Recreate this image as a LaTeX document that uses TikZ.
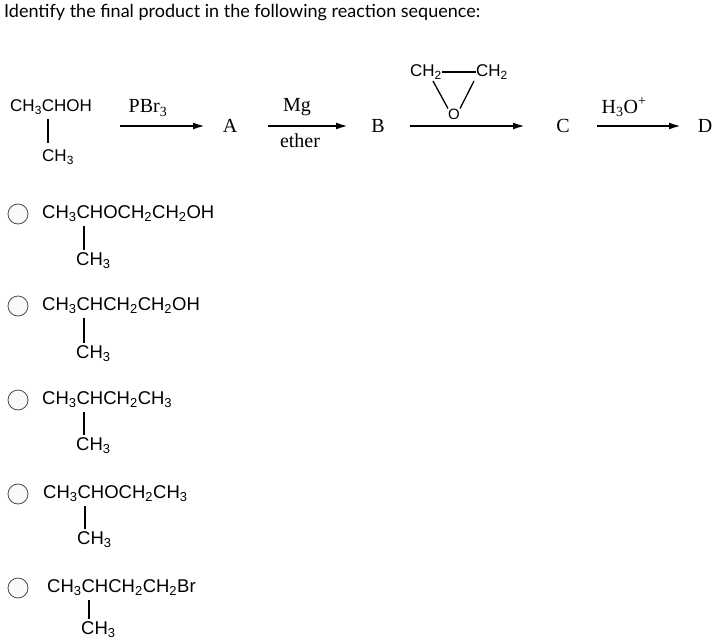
\documentclass[tikz,border=0pt]{standalone}
\usepackage{fontspec}
\setmainfont{Liberation Sans}
\newfontfamily\titlefont{Lato}
\newfontfamily\serifx{Liberation Serif}
\usetikzlibrary{arrows.meta}
\newcommand\lo[1]{\textsubscript{#1}}
\begin{document}
\begin{tikzpicture}[x=1pt,y=-1pt,
  chem/.style={font=\fontsize{18.5}{20}\selectfont, inner sep=0pt, anchor=west},
  rg/.style={font=\serifx\fontsize{20}{22}\selectfont, inner sep=0pt},
  rarrow/.style={line width=2pt, -{Latex[length=12pt,width=7pt]}},
  bond/.style={line width=1.3pt},
  radio/.style={draw=black!70, fill=black!2, line width=0.8pt, circle, minimum size=20pt, inner sep=0pt}]
\useasboundingbox (0,0) rectangle (717,642);
\node[anchor=west, inner sep=0pt, font=\titlefont\fontsize{18}{20}\selectfont] (title) at (4,13) {Identify the final product in the following reaction sequence:};
% starting material
\node[chem, font=\fontsize{17}{19}\selectfont] (sm) at (10,107) {CH\lo{3}CHOH};
\node[chem, font=\fontsize{17}{19}\selectfont] (smm) at (42,157) {CH\lo{3}};
\draw[bond] (48,119) -- (48,143);
% step 1
\node[rg] (pbr) at (148,108) {PBr\lo{3}};
\coordinate (a1s) at (120,126); \coordinate (a1e) at (205,126);
\draw[rarrow] (a1s) -- (a1e);
\node[rg] (A) at (230,126) {A};
% step 2
\node[rg] (mg) at (297,107) {Mg};
\node[rg] (eth) at (300,141) {ether};
\coordinate (a2s) at (268,126); \coordinate (a2e) at (348,126);
\draw[rarrow] (a2s) -- (a2e);
\node[rg] (B) at (378,126) {B};
% step 3 epoxide
\node[font=\fontsize{17}{18}\selectfont, inner sep=0pt] (e1) at (426,72) {CH\lo{2}};
\node[font=\fontsize{17}{18}\selectfont, inner sep=0pt] (e2) at (492,72) {CH\lo{2}};
\node[font=\fontsize{15}{17}\selectfont, inner sep=0pt] (eo) at (454,114) {O};
\draw[bond] (e1.east) -- (e2.west);
\draw[bond] (433,81) -- (eo.north west);
\draw[bond] (474,81) -- (eo.north east);
\coordinate (a3s) at (410,126); \coordinate (a3e) at (525,126);
\draw[rarrow] (a3s) -- (a3e);
\node[rg] (C) at (563,126) {C};
% step 4
\node[rg] (h3o) at (624,107) {H\lo{3}O\textsuperscript{+}};
\coordinate (a4s) at (597,126); \coordinate (a4e) at (681,126);
\draw[rarrow] (a4s) -- (a4e);
\node[rg] (D) at (705,126) {D};
% options
\foreach \y/\cy/\lx/\tx/\txt [count=\i] in {
  214/261/84/42/{CH\lo{3}CHOCH\lo{2}CH\lo{2}OH},
  306/354/84/42/{CH\lo{3}CHCH\lo{2}CH\lo{2}OH},
  400/446/84/42/{CH\lo{3}CHCH\lo{2}CH\lo{3}},
  494/540/85/43/{CH\lo{3}CHOCH\lo{2}CH\lo{3}},
  588/630/89/47/{CH\lo{3}CHCH\lo{2}CH\lo{2}Br}} {
  \node[radio] (r\i) at (18,\y) {};
  \node[chem] (o\i) at (\tx,\y) {\txt};
  \node[chem] (m\i) at (\lx-8,\cy) {CH\lo{3}};
  \draw[bond] (\lx,\y+12) -- (\lx,\cy-11);
}
\end{tikzpicture}
\end{document}
